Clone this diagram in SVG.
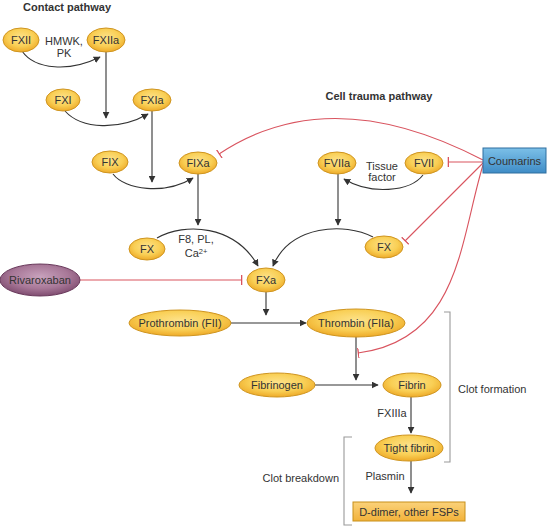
<svg xmlns="http://www.w3.org/2000/svg" width="550" height="526" viewBox="0 0 550 526">
<defs>
<radialGradient id="gold" cx="50%" cy="40%" r="60%">
<stop offset="0" stop-color="#fde28a"/>
<stop offset="0.6" stop-color="#f9cf55"/>
<stop offset="1" stop-color="#eeaa28"/>
</radialGradient>
<radialGradient id="purple" cx="50%" cy="40%" r="60%">
<stop offset="0" stop-color="#c8a2bd"/>
<stop offset="0.6" stop-color="#a87898"/>
<stop offset="1" stop-color="#7f4c70"/>
</radialGradient>
<linearGradient id="blue" x1="0" y1="0" x2="0" y2="1">
<stop offset="0" stop-color="#7cc0e8"/>
<stop offset="1" stop-color="#3f8cc6"/>
</linearGradient>
<linearGradient id="orange" x1="0" y1="0" x2="0" y2="1">
<stop offset="0" stop-color="#fbd27a"/>
<stop offset="1" stop-color="#f2b23a"/>
</linearGradient>
<marker id="arr" viewBox="0 0 10 10" refX="9" refY="5" markerWidth="7" markerHeight="7" markerUnits="userSpaceOnUse" orient="auto">
<path d="M0,0 L10,5 L0,10 z" fill="#333"/>
</marker>
<marker id="bar" viewBox="0 0 2 10" refX="1" refY="5" markerWidth="2" markerHeight="10" markerUnits="userSpaceOnUse" orient="auto">
<rect x="0" y="0" width="1.3" height="10" fill="#d9545f"/>
</marker>
</defs>
<style>
.n ellipse{fill:url(#gold);stroke:#cf9520;stroke-width:1}
.t{font-family:"Liberation Sans",Arial,sans-serif;font-size:11px;fill:#333;text-anchor:middle}
.h{font-family:"Liberation Sans",Arial,sans-serif;font-size:11px;font-weight:bold;fill:#333}
.lbl{font-family:"Liberation Sans",Arial,sans-serif;font-size:11px;fill:#333}
.a{fill:none;stroke:#333;stroke-width:1.1;marker-end:url(#arr)}
.r{fill:none;stroke:#d9545f;stroke-width:1.1;marker-end:url(#bar)}
.b{fill:none;stroke:#9a9a9a;stroke-width:1.1}
</style>

<text class="h" x="23" y="11">Contact pathway</text>
<text class="h" x="379" y="100" text-anchor="middle">Cell trauma pathway</text>

<g id="connectors">
<path class="a" d="M22,51 C35,70 70,72 100,57"/>
<path class="a" d="M106,52 L106,118"/>
<path class="a" d="M65,111 C82,130 120,130 148,114"/>
<path class="a" d="M152,111 L152,182"/>
<path class="a" d="M113,174 C125,190 165,195 193,178"/>
<path class="a" d="M198,174 L198,225"/>
<path class="a" d="M157,238 C185,222 235,225 258,266"/>
<path class="a" d="M423,175 C410,192 370,195 344,179"/>
<path class="a" d="M338,174 L338,225"/>
<path class="a" d="M373,237 C345,222 290,225 273,266"/>
<path class="a" d="M266,292 L266,315"/>
<path class="a" d="M230,323 L306,323"/>
<path class="a" d="M356,337 L356,380"/>
<path class="a" d="M315,385 L378,385"/>
<path class="a" d="M411,397 L411,433"/>
<path class="a" d="M411,461 L411,493"/>
<path class="r" d="M80,280 L242,280"/>
<path class="r" d="M483,160 Q330,80 219,154"/>
<path class="r" d="M483,162 L448,162"/>
<path class="r" d="M483,163 L405,241"/>
<path class="r" d="M483,165 C460,240 460,340 358,353"/>
<path class="b" d="M444,312 L450,312 L450,462 L444,462"/>
<path class="b" d="M352,437 L344,437 L344,525 L352,525"/>
</g>

<text class="t" x="64" y="45">HMWK,</text>
<text class="t" x="64" y="57">PK</text>
<text class="t" x="382" y="170">Tissue</text>
<text class="t" x="382" y="181">factor</text>
<text class="t" x="196" y="243">F8, PL,</text>
<text class="t" x="196" y="257">Ca<tspan font-size="7.5" dy="-3.5">2+</tspan></text>
<text class="t" x="392" y="417">FXIIIa</text>
<text class="t" x="385" y="480">Plasmin</text>
<text class="lbl" x="458" y="393">Clot formation</text>
<text class="lbl" x="339" y="482" text-anchor="end">Clot breakdown</text>

<g id="FXII" class="n"><ellipse cx="21" cy="40" rx="18" ry="12"/><text class="t" x="21" y="44">FXII</text></g>
<g id="FXIIa" class="n"><ellipse cx="106" cy="40" rx="19" ry="12"/><text class="t" x="106" y="44">FXIIa</text></g>
<g id="FXI" class="n"><ellipse cx="63" cy="100" rx="17" ry="11"/><text class="t" x="63" y="104">FXI</text></g>
<g id="FXIa" class="n"><ellipse cx="152" cy="100" rx="19" ry="11"/><text class="t" x="152" y="104">FXIa</text></g>
<g id="FIX" class="n"><ellipse cx="110" cy="162" rx="18" ry="11"/><text class="t" x="110" y="166">FIX</text></g>
<g id="FIXa" class="n"><ellipse cx="198" cy="163" rx="19" ry="11"/><text class="t" x="198" y="167">FIXa</text></g>
<g id="FVIIa" class="n"><ellipse cx="337" cy="163" rx="19" ry="11"/><text class="t" x="337" y="167">FVIIa</text></g>
<g id="FVII" class="n"><ellipse cx="424" cy="163" rx="19" ry="11"/><text class="t" x="424" y="167">FVII</text></g>
<g id="Coumarins"><rect x="483" y="148" width="63" height="25" fill="url(#blue)" stroke="#2f6f9f" stroke-width="1"/><text class="t" x="514.5" y="165" font-size="12">Coumarins</text></g>
<g id="FX-left" class="n"><ellipse cx="147" cy="249" rx="18" ry="11"/><text class="t" x="147" y="253">FX</text></g>
<g id="FX-right" class="n"><ellipse cx="384" cy="247" rx="19" ry="11"/><text class="t" x="384" y="251">FX</text></g>
<g id="Rivaroxaban"><ellipse cx="40" cy="280" rx="40" ry="16" fill="url(#purple)" stroke="#6a3a5c" stroke-width="1"/><text class="t" x="40" y="284">Rivaroxaban</text></g>
<g id="FXa" class="n"><ellipse cx="266" cy="280" rx="19" ry="12"/><text class="t" x="266" y="284">FXa</text></g>
<g id="Prothrombin" class="n"><ellipse cx="180" cy="323" rx="51" ry="13"/><text class="t" x="180" y="327">Prothrombin (FII)</text></g>
<g id="Thrombin" class="n"><ellipse cx="356" cy="323" rx="49" ry="14"/><text class="t" x="356" y="327">Thrombin (FIIa)</text></g>
<g id="Fibrinogen" class="n"><ellipse cx="277" cy="385" rx="38" ry="12"/><text class="t" x="277" y="389">Fibrinogen</text></g>
<g id="Fibrin" class="n"><ellipse cx="412" cy="385" rx="29" ry="12"/><text class="t" x="412" y="389">Fibrin</text></g>
<g id="TightFibrin" class="n"><ellipse cx="409" cy="448" rx="34" ry="13"/><text class="t" x="409" y="452">Tight fibrin</text></g>
<g id="Ddimer"><rect x="353" y="502" width="112" height="19" fill="url(#orange)" stroke="#c8901a" stroke-width="1"/><text class="t" x="409" y="515.5">D-dimer, other FSPs</text></g>
</svg>
